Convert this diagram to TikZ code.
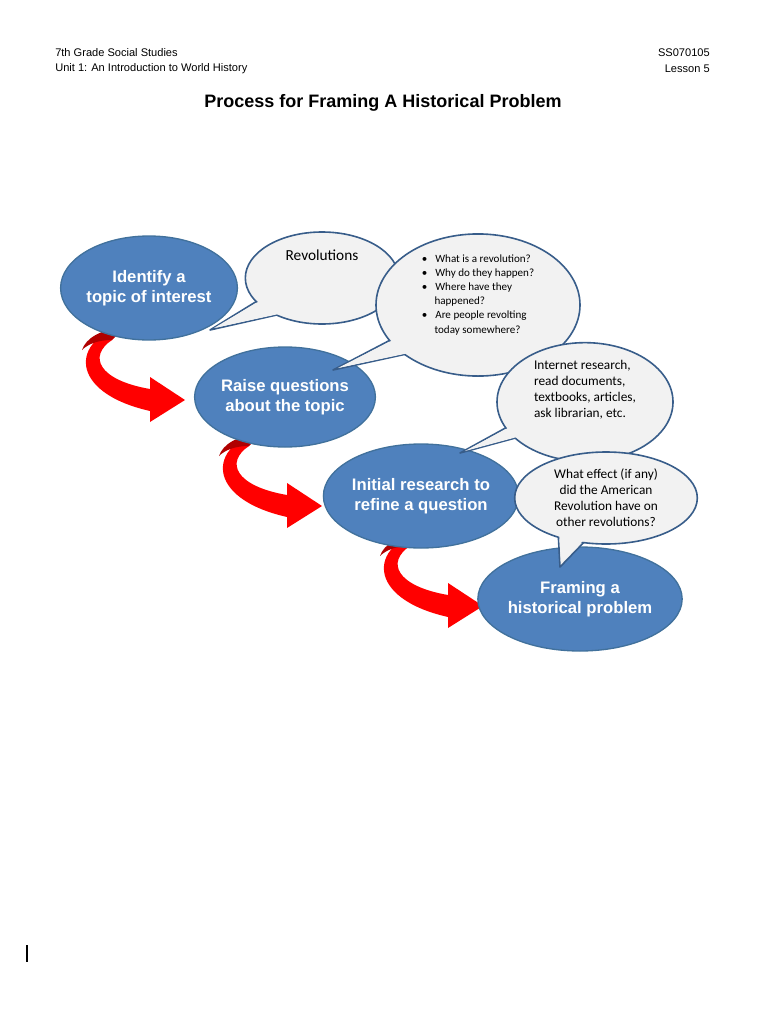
\documentclass[tikz,border=0pt]{standalone}
\usepackage{fontspec}
\setmainfont{Liberation Sans}
\newfontfamily\calfont{Carlito}
\usetikzlibrary{shapes.geometric}
\definecolor{sblue}{HTML}{4F81BD}
\definecolor{sbord}{HTML}{41719C}
\definecolor{bbord}{HTML}{385D8A}
\definecolor{bfill}{HTML}{F2F2F2}
\definecolor{dred}{HTML}{B00000}
\tikzset{
 stage/.style={ellipse,fill=sblue,draw=sbord,line width=1pt,inner sep=0pt,text=white,font=\bfseries\fontsize{12.5}{15}\selectfont,align=center},
 bub/.style={ellipse,fill=bfill,draw=bbord,line width=1.2pt,inner sep=0pt,font=\calfont\fontsize{10}{12}\selectfont,align=center},
 tail/.style={fill=bfill,draw=bbord,line width=1.2pt,line join=round},
 hdr/.style={font=\fontsize{8.3}{10}\selectfont,inner sep=0pt},
}
\begin{document}
\begin{tikzpicture}[x=0.75pt,y=-0.75pt]
\useasboundingbox (0,0) rectangle (768,1024);
\node[hdr,anchor=west] (h1) at (55,53) {7th Grade Social Studies};
\node[hdr,anchor=west] (h2) at (55,69) {Unit 1: An Introduction to World History};
\node[hdr,anchor=east] (h3) at (710,53) {SS070105};
\node[hdr,anchor=east] (h4) at (710,69) {Lesson 5};
\node[font=\bfseries\fontsize{13.5}{16}\selectfont] (title) at (383,103) {Process for Framing A Historical Problem};
\draw[line width=0.8pt] (27,945) -- (27,962);
% red arrows
\foreach \dx/\dy [count=\i] in {0/0,137/106,298/206}{
 \begin{scope}[shift={(\dx*0.75pt,-\dy*0.75pt)}]
  \fill[red] (125,326) .. controls (72,338) and (66,392) .. (150,411) -- (150,422) -- (185,400) -- (150,377) -- (150,389) .. controls (98,380) and (88,356) .. (112,340) -- cycle;
  \fill[dred] (125,326) .. controls (100,330) and (86,338) .. (82,350) .. controls (88,344) and (98,340) .. (112,340) -- cycle;
 \end{scope}}
% stages
\node[stage,minimum width=105pt,minimum height=78pt] (s1) at (149,288) {Identify a\\topic of interest};
\node[stage,minimum width=132pt,minimum height=75pt] (s2) at (285,397) {Raise questions\\about the topic};
\node[stage,minimum width=131pt,minimum height=78pt] (s3) at (421,496) {Initial research to\\refine a question};
\node[stage,minimum width=119pt,minimum height=78pt] (s4) at (580,599) {Framing a\\historical problem};
% bubble tails (outline)
\coordinate (ta) at (210,330); \coordinate (tb) at (333,370);
\coordinate (tc) at (460,453); \coordinate (td) at (560,567);
\draw[tail] (ta) -- (262,298) -- (290,312) -- cycle;
\draw[tail] (tb) -- (398,336) -- (425,350) -- cycle;
\draw[tail] (tc) -- (520,420) -- (545,430) -- cycle;
\draw[tail] (td) -- (558,530) -- (590,536) -- cycle;
% bubbles
\node[bub,minimum width=115pt,minimum height=69pt] (b1) at (322,278) {\fontsize{11.5}{13}\selectfont Revolutions\\[22pt]};
\node[bub,minimum width=153pt,minimum height=105pt,font=\calfont\fontsize{8.3}{10.6}\selectfont,align=left] (b2) at (478,305) {%
\textbullet\hspace{6pt}What is a revolution?\\
\textbullet\hspace{6pt}Why do they happen?\\
\textbullet\hspace{6pt}Where have they\\
\hspace{9.5pt}happened?\\
\textbullet\hspace{6pt}Are people revolting\\
\hspace{9.5pt}today somewhere?\\[6pt]};
\node[bub,minimum width=132pt,minimum height=72pt,align=left] (b3) at (585,402) {Internet research,\\read documents,\\textbooks, articles,\\ask librarian, etc.\\[8pt]};
\node[bub,minimum width=137pt,minimum height=69pt] (b4) at (606,498) {What effect (if any)\\did the American\\Revolution have on\\other revolutions?};
% cover bases
\fill[bfill] (ta) ++(4,-2) -- (263,299) -- (288,312) -- cycle;
\fill[bfill] (tb) ++(5,-2) -- (399,337) -- (423,350) -- cycle;
\fill[bfill] (tc) ++(5,-2) -- (521,421) -- (543,430) -- cycle;
\fill[bfill] (td) ++(1,-5) -- (559,530) -- (588,536) -- cycle;
\end{tikzpicture}
\end{document}
